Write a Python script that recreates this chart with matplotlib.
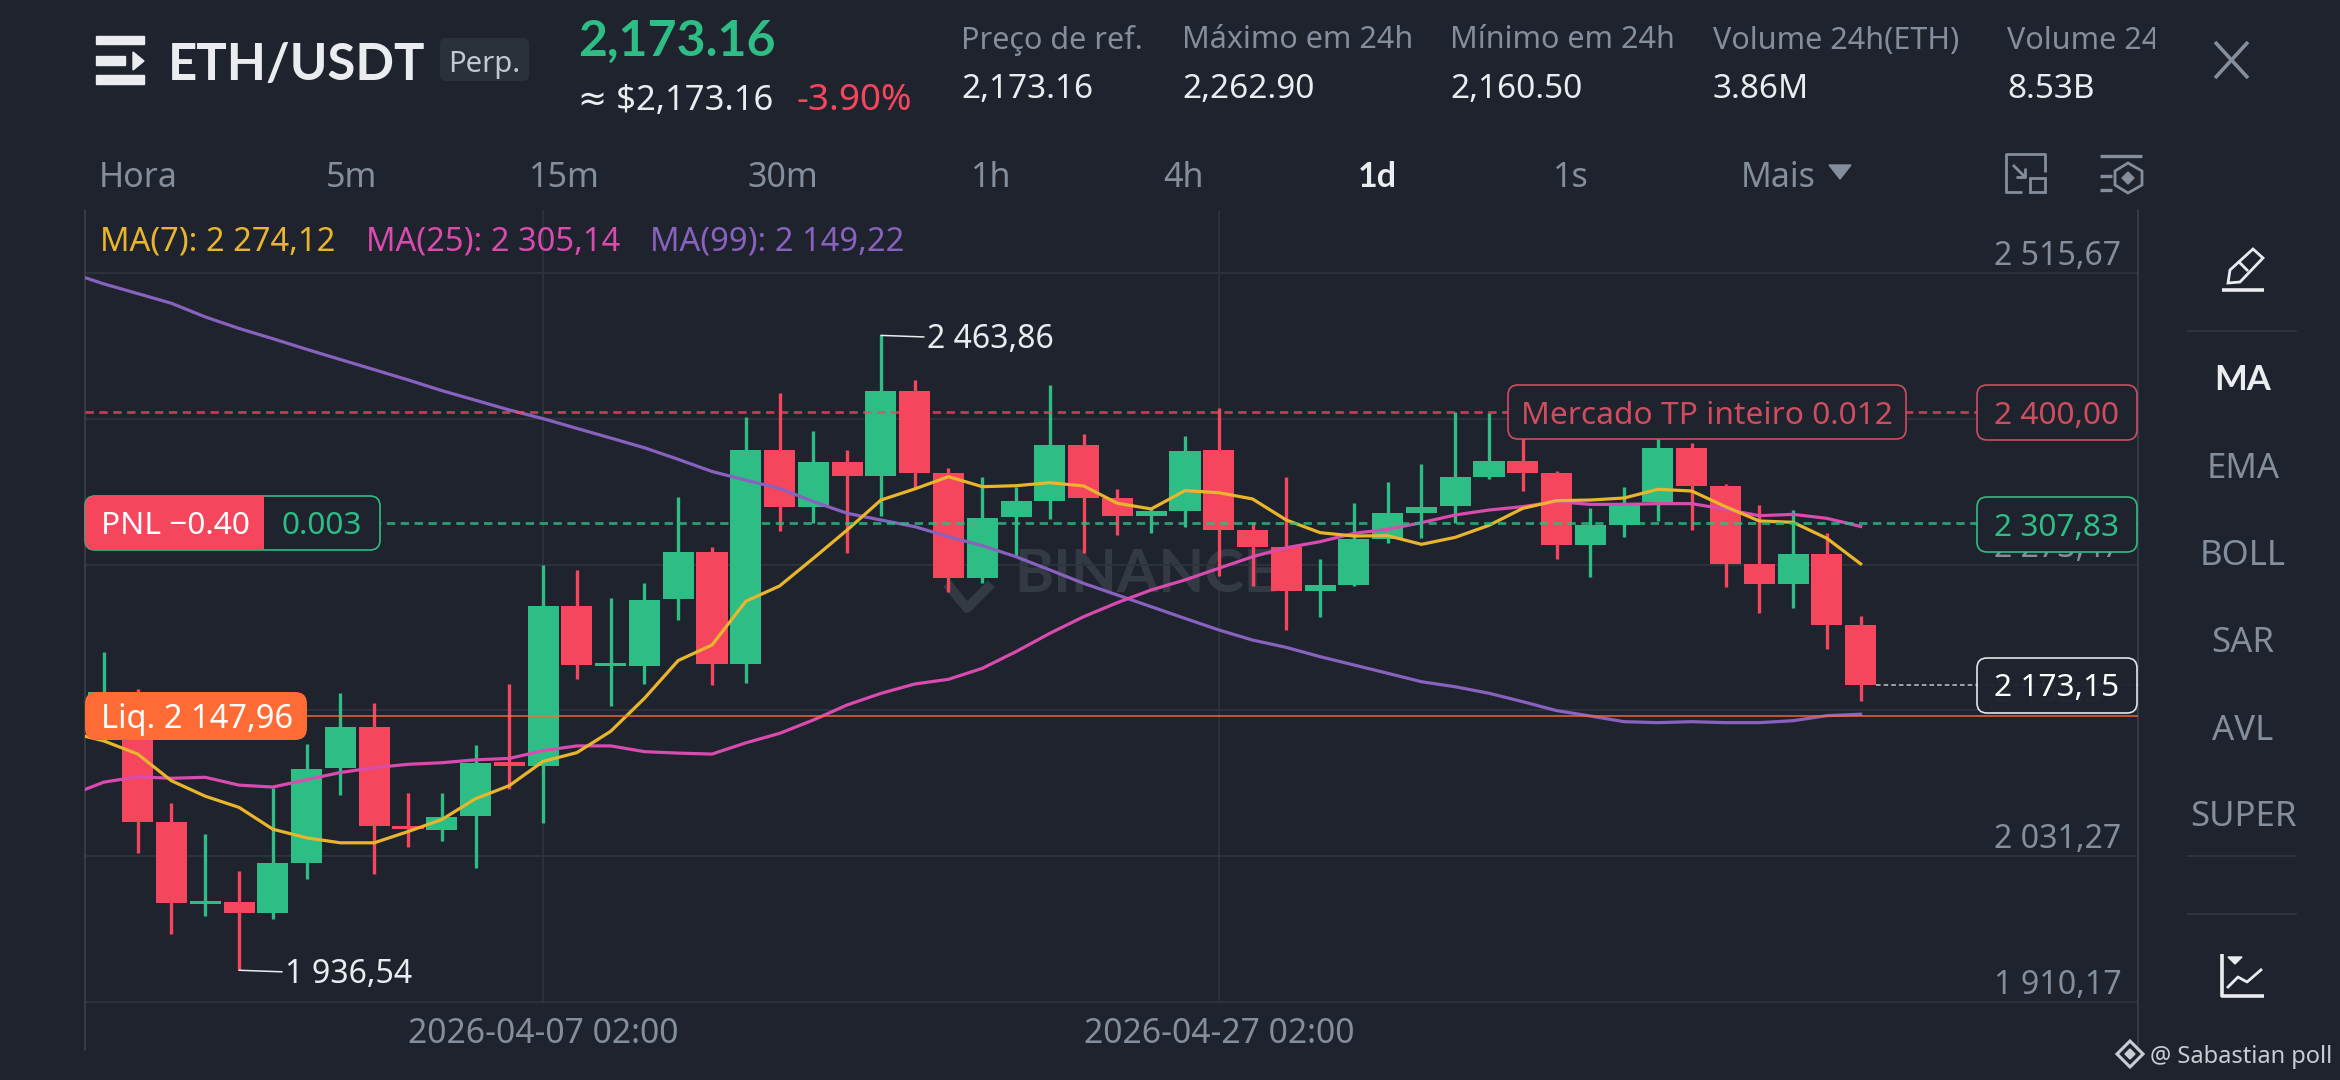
"""ETH/USDT perp daily chart screen, candles with MA(7/25/99), drawn on a dark UI."""
import numpy as np
import matplotlib
matplotlib.use("Agg")
import matplotlib.pyplot as plt
from matplotlib.patches import FancyBboxPatch, Rectangle, Polygon

plt.rcParams["font.family"] = ["Noto Sans", "DejaVu Sans"]
BOLD_FONT = ["Lato", "DejaVu Sans"]

OPEN = [2132, 2158.4, 2059.7, 1991.7, 1993.3, 1984, 2025.9, 2104.8, 2138.6, 2056.5, 2053.3, 2064.6, 2109.3,
        2106.4, 2238.9, 2189.4, 2189.4, 2244.5, 2283.6, 2190.9, 2368.7, 2321.6, 2358.7, 2347.3, 2417.7, 2349.3,
        2262.4, 2312.7, 2326.3, 2373.1, 2328.8, 2313.8, 2318.2, 2368.4, 2302.2, 2288.4, 2251.8, 2256.3, 2295,
        2316, 2322.2, 2346.5, 2359.5, 2349.8, 2290, 2306.4, 2325.8, 2370.3, 2338.8, 2273.7, 2257.6, 2282, 2223.6]
HIGH = [2200.6, 2170.4, 2075.8, 2049.7, 2018.7, 2087.9, 2124.1, 2167.2, 2158.4, 2083.9, 2083.9, 2123.3, 2174.5,
        2273.1, 2269.1, 2246.1, 2257.8, 2329.5, 2288, 2395.7, 2416.3, 2384.7, 2368.7, 2463.86, 2426.8, 2354,
        2346.5, 2338.2, 2422.9, 2381.9, 2336.5, 2320.2, 2380.3, 2403.8, 2309.1, 2346.5, 2277.9, 2324.4, 2342,
        2356.8, 2400, 2399.1, 2396.4, 2351.5, 2320.8, 2338.2, 2382.5, 2374.2, 2340.1, 2323, 2318.8, 2299.5, 2231]
LOW = [2128, 2033.6, 1966.3, 1982, 1936.54, 1979.2, 2012.2, 2081.9, 2016.3, 2038.8, 2043.6, 2021.1, 2087.1,
       2058.5, 2178.1, 2156.4, 2174.5, 2227.6, 2173.3, 2174.8, 2301.7, 2308.3, 2282.8, 2313.8, 2336.8, 2251,
       2257.9, 2280.6, 2311.6, 2283.4, 2298.3, 2299.4, 2305, 2264.3, 2256, 2219.2, 2230.2, 2255.7, 2291.7,
       2295.8, 2307.8, 2344.3, 2334.9, 2277.8, 2263.5, 2296.7, 2309.7, 2302.2, 2255.1, 2233, 2237.2, 2203.6, 2160.5]
CLOSE = [2167.6, 2059.7, 1992.1, 1994.1, 1984, 2025.5, 2104, 2138.6, 2056.5, 2053.7, 2063.8, 2108.9, 2106,
         2238.9, 2189.8, 2191.4, 2244.1, 2283.6, 2190.9, 2368.7, 2321.6, 2358.7, 2347.3, 2417.7, 2349.3, 2262.4,
         2312.5, 2326, 2373.1, 2329.1, 2313.8, 2318, 2368.1, 2302.2, 2288.4, 2251.8, 2256.3, 2294.5, 2316,
         2321.6, 2346.2, 2359.5, 2349.8, 2290, 2306.1, 2324.9, 2370.3, 2338.8, 2273.7, 2257.6, 2282, 2223.6, 2173.15]

# the MA lists start one candle earlier, that point is off the left edge
MA7 = [2134, 2127, 2116.1, 2093.9, 2081.1, 2071.8, 2053.7, 2046.5, 2042.4, 2042.4, 2051.7, 2061.7, 2079, 2089.9,
       2110, 2117.3, 2135, 2162.4, 2193.8, 2206.7, 2243, 2255.7, 2278.7, 2302.2, 2327.1, 2336.3, 2346.5, 2338.2,
       2339, 2341.5, 2338.8, 2324.4, 2319.7, 2334.9, 2333.2, 2328, 2310.5, 2300, 2297.2, 2297.5, 2290.3, 2296.1,
       2306.1, 2320.2, 2326.6, 2327.1, 2328.8, 2336, 2334.6, 2321.6, 2309.7, 2308.6, 2295.3, 2274.1]
MA25 = [2081.9, 2092.8, 2097.2, 2096, 2096.8, 2090.3, 2088.7, 2094.8, 2100.8, 2104.8, 2107.6, 2108.9, 2111.3, 2112.5,
        2118.9, 2122.9, 2122.9, 2118.1, 2116.9, 2116.1, 2125.4, 2133.3, 2144.4, 2156.9, 2166.5, 2174.3, 2178.2, 2187.3,
        2201.2, 2216.4, 2230.2, 2241.9, 2252.4, 2260.7, 2270.4, 2280, 2287.5, 2292.5, 2299.4, 2302.8, 2308.3, 2314.7,
        2318.8, 2321.6, 2325.8, 2323.5, 2323.5, 2324.1, 2324.1, 2319.4, 2314.1, 2315.2, 2311.9, 2305.14]
MA99 = [2515.9, 2506.6, 2498.6, 2490.5, 2479.2, 2469.6, 2461.1, 2452.3, 2443.8, 2435.4, 2426.9, 2418, 2410, 2401.9,
        2394.7, 2386.6, 2378.6, 2370.5, 2360.9, 2350.8, 2343.6, 2336.8, 2325.8, 2316.1, 2310.5, 2305, 2296.7, 2289.2,
        2280, 2269, 2257.9, 2248.2, 2238.5, 2228.8, 2219.2, 2210.8, 2204.7, 2197, 2190.1, 2183.2, 2176.2, 2172,
        2166.6, 2159.6, 2152.2, 2147.7, 2143, 2142.2, 2143, 2142.2, 2142.2, 2143.8, 2148, 2149.22]

Y_TICKS = [1910.17, 2031.27, 2152.37, 2273.47, 2394.57, 2515.67]
Y_LABELS = ["1 910,17", "2 031,27", "2 152,37", "2 273,47", "2 394,57", "2 515,67"]
X_TICKS = [13, 33]
X_LABELS = ["2026-04-07 02:00", "2026-04-27 02:00"]

TP_PRICE = 2400.00
ENTRY_PRICE = 2307.83
LIQ_PRICE = 2147.96
LAST_PRICE = 2173.15

STAT_NAMES = ["Preço de ref.", "Máximo em 24h", "Mínimo em 24h", "Volume 24h(ETH)", "Volume 24h(USDT)"]
STAT_VALUES = ["2,173.16", "2,262.90", "2,160.50", "3.86M", "8.53B"]
STAT_X = [961, 1182, 1450, 1713, 2007]
PERIODS = ["5m", "15m", "30m", "1h", "4h", "1d", "1s"]
PERIOD_X = [352, 564, 783, 991, 1183, 1377, 1571]
SIDE_ITEMS = ["MA", "EMA", "BOLL", "SAR", "AVL", "SUPER"]
SIDE_Y = [377, 465, 552, 639, 727, 813]

BG = "#1E232D"
GRID = "#2E343E"
GREEN = "#2EBD85"
RED = "#F6465D"
MUTED_RED = "#CF4D5F"
ORANGE = "#FF6B35"
GRAY = "#848E9C"
LIGHT = "#EAECEF"
YELLOW = "#E8B52C"
PINK = "#D94BAE"
PURPLE = "#8862BE"
CHART_SIZE = 22.8

W, H = 2340, 1080
fig = plt.figure(figsize=(W / 100, H / 100), dpi=100, facecolor=BG)

# price pane, placed by pixels; 33.78 px per candle, 0.8306 price per px
L, R, T, B = 85, 2138, 210, 1050
ax = fig.add_axes([L / W, 1 - B / H, (R - L) / W, (B - T) / H], facecolor=BG)
x = np.arange(len(OPEN))
x_ma = np.arange(-1, len(OPEN))
ax.set_xlim(-0.56, 60.21)
ax.set_ylim(1870.3, 2568)

for name in ("top", "bottom"):
    ax.spines[name].set_visible(False)
for name in ("left", "right"):
    ax.spines[name].set_color("#3A404A")
    ax.spines[name].set_linewidth(1.2)

ax.set_yticks(Y_TICKS, labels=Y_LABELS)
ax.yaxis.tick_right()
ax.tick_params(axis="y", length=0, pad=-12, labelsize=23.1, labelcolor=GRAY)
for lab in ax.get_yticklabels():
    lab.set_ha("right")
    lab.set_va("bottom")
ax.set_xticks(X_TICKS, labels=X_LABELS)
ax.tick_params(axis="x", length=0, pad=-24, labelsize=24.3, labelcolor=GRAY)
ax.grid(axis="y", color=GRID, lw=1.3, zorder=0)
ax.vlines(X_TICKS, Y_TICKS[0], 2568, color=GRID, lw=1.2, zorder=0)

# watermark sits under the candles
ax.text(0.517, 0.565, "BINANCE", transform=ax.transAxes, ha="center", va="center", family=BOLD_FONT,
        fontsize=43, fontweight="bold", color="#343A44", zorder=0.5)
ax.plot([0.4213, 0.4296, 0.4398], [0.551, 0.526, 0.551], transform=ax.transAxes,
        color="#343A44", lw=7, zorder=0.5)

is_up = np.array(CLOSE) >= np.array(OPEN)
colors = [GREEN if u else RED for u in is_up]
ax.vlines(x, LOW, HIGH, color=colors, lw=2.4, zorder=2)
ax.bar(x, np.array(CLOSE) - np.array(OPEN), bottom=OPEN, width=0.92, color=colors, zorder=3)

ax.plot(x_ma, MA99, color=PURPLE, lw=2.3, zorder=4)
ax.plot(x_ma, MA25, color=PINK, lw=2.3, zorder=4)
ax.plot(x_ma, MA7, color=YELLOW, lw=2.3, zorder=4)

ax.axhline(TP_PRICE, color=RED, alpha=0.75, lw=2, dashes=(3, 2), zorder=5)
ax.plot([5.9, 60.21], [ENTRY_PRICE, ENTRY_PRICE], color=GREEN, alpha=0.8, lw=2, dashes=(3, 2), zorder=5)
ax.axhline(LIQ_PRICE, color=ORANGE, alpha=0.85, lw=1.2, zorder=5)
ax.plot([x[-1] + 0.45, 60.21], [LAST_PRICE, LAST_PRICE], color=LIGHT, alpha=0.8, lw=1.1, dashes=(3, 2), zorder=5)

# high and low of the visible range
hi = int(np.argmax(HIGH))
lo = int(np.argmin(LOW))
ax.annotate(f"{HIGH[hi]:,.2f}".replace(",", " ").replace(".", ","), xy=(x[hi], HIGH[hi]), xytext=(33, 0),
            textcoords="offset points", va="center_baseline", fontsize=23.1, color=LIGHT, zorder=6,
            arrowprops=dict(arrowstyle="-", color=LIGHT, lw=1.1, shrinkA=0, shrinkB=0))
ax.annotate(f"{LOW[lo]:,.2f}".replace(",", " ").replace(".", ","), xy=(x[lo], LOW[lo]), xytext=(33, 0),
            textcoords="offset points", va="center_baseline", fontsize=23.1, color=LIGHT, zorder=6,
            arrowprops=dict(arrowstyle="-", color=LIGHT, lw=1.1, shrinkA=0, shrinkB=0))

# everything else is the app's UI, pixel coordinates with y going down
ui = fig.add_axes([0, 0, 1, 1], facecolor="none")
ui.set_xlim(0, W)
ui.set_ylim(H, 0)
ui.axis("off")


def label(px, py, s, color=LIGHT, size=CHART_SIZE, ha="left", bold=False):
    family = BOLD_FONT if bold else plt.rcParams["font.family"]
    return ui.text(px, py, s, color=color, fontsize=size, ha=ha, va="center_baseline",
                   family=family, fontweight="bold" if bold else "normal")


def box(x0, y0, x1, y1, edge, face=BG, lw=1.2, r=10, alpha=None):
    p = FancyBboxPatch((x0, y0), x1 - x0, y1 - y0, boxstyle=f"round,pad=0,rounding_size={r}",
                       ec=edge, fc=face, lw=lw, alpha=alpha)
    ui.add_patch(p)


def stroke(xs, ys, color=GRAY, lw=2.0):
    ui.plot(xs, ys, color=color, lw=lw, solid_capstyle="butt")


# header
ui.add_patch(Rectangle((96, 36), 48, 8, color=LIGHT))
ui.add_patch(Rectangle((96, 56), 29, 9, color=LIGHT))
ui.add_patch(Rectangle((96, 75), 48, 9, color=LIGHT))
ui.add_patch(Polygon([(133, 52), (144, 61), (133, 70)], color=LIGHT))
label(168, 61, "ETH/USDT", size=36.6, bold=True)
box(440, 38, 529, 81, "none", face="#2B313B", r=6)
label(484.5, 61, "Perp.", color="#C4C9D1", size=21, ha="center")
label(578, 37, "2,173.16", color=GREEN, size=36, bold=True)
label(578, 97, "≈ $2,173.16", size=25)
label(797, 97, "-3.90%", color=RED, size=26.5)
for sx, name, value in zip(STAT_X, STAT_NAMES, STAT_VALUES):
    t = label(sx, 37, name, color=GRAY, size=22)
    label(sx, 85, value, size=24)
    if sx > 2000:  # last column runs off under the close button
        t.set_clip_on(True)
        t.set_clip_path(Rectangle((0, 0), 2155, H, transform=ui.transData))
stroke([2215, 2248], [42, 78], lw=2.6)
stroke([2215, 2248], [78, 42], lw=2.6)

# period row
label(99, 174, "Hora", color=GRAY, size=24.5)
for px, name in zip(PERIOD_X, PERIODS):
    active = name == "1d"
    label(px, 174, name, color=LIGHT if active else GRAY, size=24.5, ha="center", bold=active)
label(1778, 174, "Mais", color=GRAY, size=24.5, ha="center")
ui.add_patch(Polygon([(1829, 165), (1851, 165), (1840, 179)], color=GRAY))
stroke([2006, 2006, 2045, 2045], [193, 154, 154, 172])
stroke([2006, 2022], [192, 192])
ui.add_patch(Rectangle((2030, 178), 15, 14, fc="none", ec=GRAY, lw=2))
stroke([2013, 2025], [165, 177])
stroke([2016, 2025, 2025], [177, 177, 168])
stroke([2100, 2142], [156, 156], lw=2.4)
stroke([2100, 2112], [176, 176], lw=2.4)
stroke([2100, 2112], [190, 190], lw=2.4)
ui.add_patch(Polygon([(2128, 163), (2142, 171), (2142, 185), (2128, 193), (2115, 185), (2115, 171)], fc="none", ec=GRAY, lw=2))
ui.add_patch(Polygon([(2128, 172), (2134, 178), (2128, 184), (2122, 178)], color=GRAY))

# MA legend
label(100, 238, "MA(7): 2 274,12", color=YELLOW, size=23.5)
label(366, 238, "MA(25): 2 305,14", color=PINK, size=23.5)
label(650, 238, "MA(99): 2 149,22", color=PURPLE, size=23.5)

# position tags on the chart
box(85, 692, 307, 740, "none", face=ORANGE, r=12)
label(101, 715, "Liq. 2 147,96", color="white", size=23.5)
box(85, 496, 380, 550, GREEN)
box(85, 496, 250, 550, "none", face=RED)
ui.add_patch(Rectangle((235, 496), 29, 54, color=RED, lw=0))
label(101, 523, "PNL −0.40", color="white")
label(322, 523, "0.003", color=GREEN, ha="center")
box(1508, 385, 1906, 439, MUTED_RED)
label(1707, 412, "Mercado TP inteiro 0.012", color=MUTED_RED, ha="center")

box(1977, 385, 2137, 440, MUTED_RED)
label(2057, 412, "2 400,00", color=MUTED_RED, ha="center")
box(1977, 497, 2137, 552, GREEN)
label(2057, 524, "2 307,83", color=GREEN, ha="center")
box(1977, 658, 2137, 713, LIGHT, alpha=0.96)
label(2057, 685, "2 173,15", color="white", ha="center")

# right side menu
stroke([2222, 2264], [290, 290], color=LIGHT, lw=2.6)
ui.add_patch(Polygon([(2253, 249), (2263, 258), (2240, 282), (2228, 283), (2230, 270)], fc="none", ec=LIGHT, lw=2))
stroke([2238, 2248], [261, 271], color=LIGHT)
for yy in (331, 856, 914):
    stroke([2187, 2297], [yy, yy], color=GRID, lw=1.5)
for yy, name in zip(SIDE_Y, SIDE_ITEMS):
    label(2243, yy, name, color=LIGHT if name == "MA" else GRAY, size=25, ha="center", bold=name == "MA")
stroke([2222, 2222, 2264], [954, 996, 996], color=LIGHT, lw=2.6)
stroke([2227, 2238, 2247, 2262], [988, 977, 982, 969], color=LIGHT)
ui.add_patch(Polygon([(2228, 957), (2242, 957), (2235, 964)], color=LIGHT))

# repost credit, bottom right
ui.add_patch(Polygon([(2130, 1041), (2143, 1054), (2130, 1067), (2117, 1054)], fc="none", ec="#C9CDD2", lw=2.2))
ui.add_patch(Polygon([(2130, 1049), (2135, 1054), (2130, 1059), (2125, 1054)], color="#C9CDD2"))
label(2150, 1054, "@ Sabastian poll", color="#C9CDD2", size=17)

fig.savefig("out.png", dpi=100, facecolor=BG)
print("saved out.png")
